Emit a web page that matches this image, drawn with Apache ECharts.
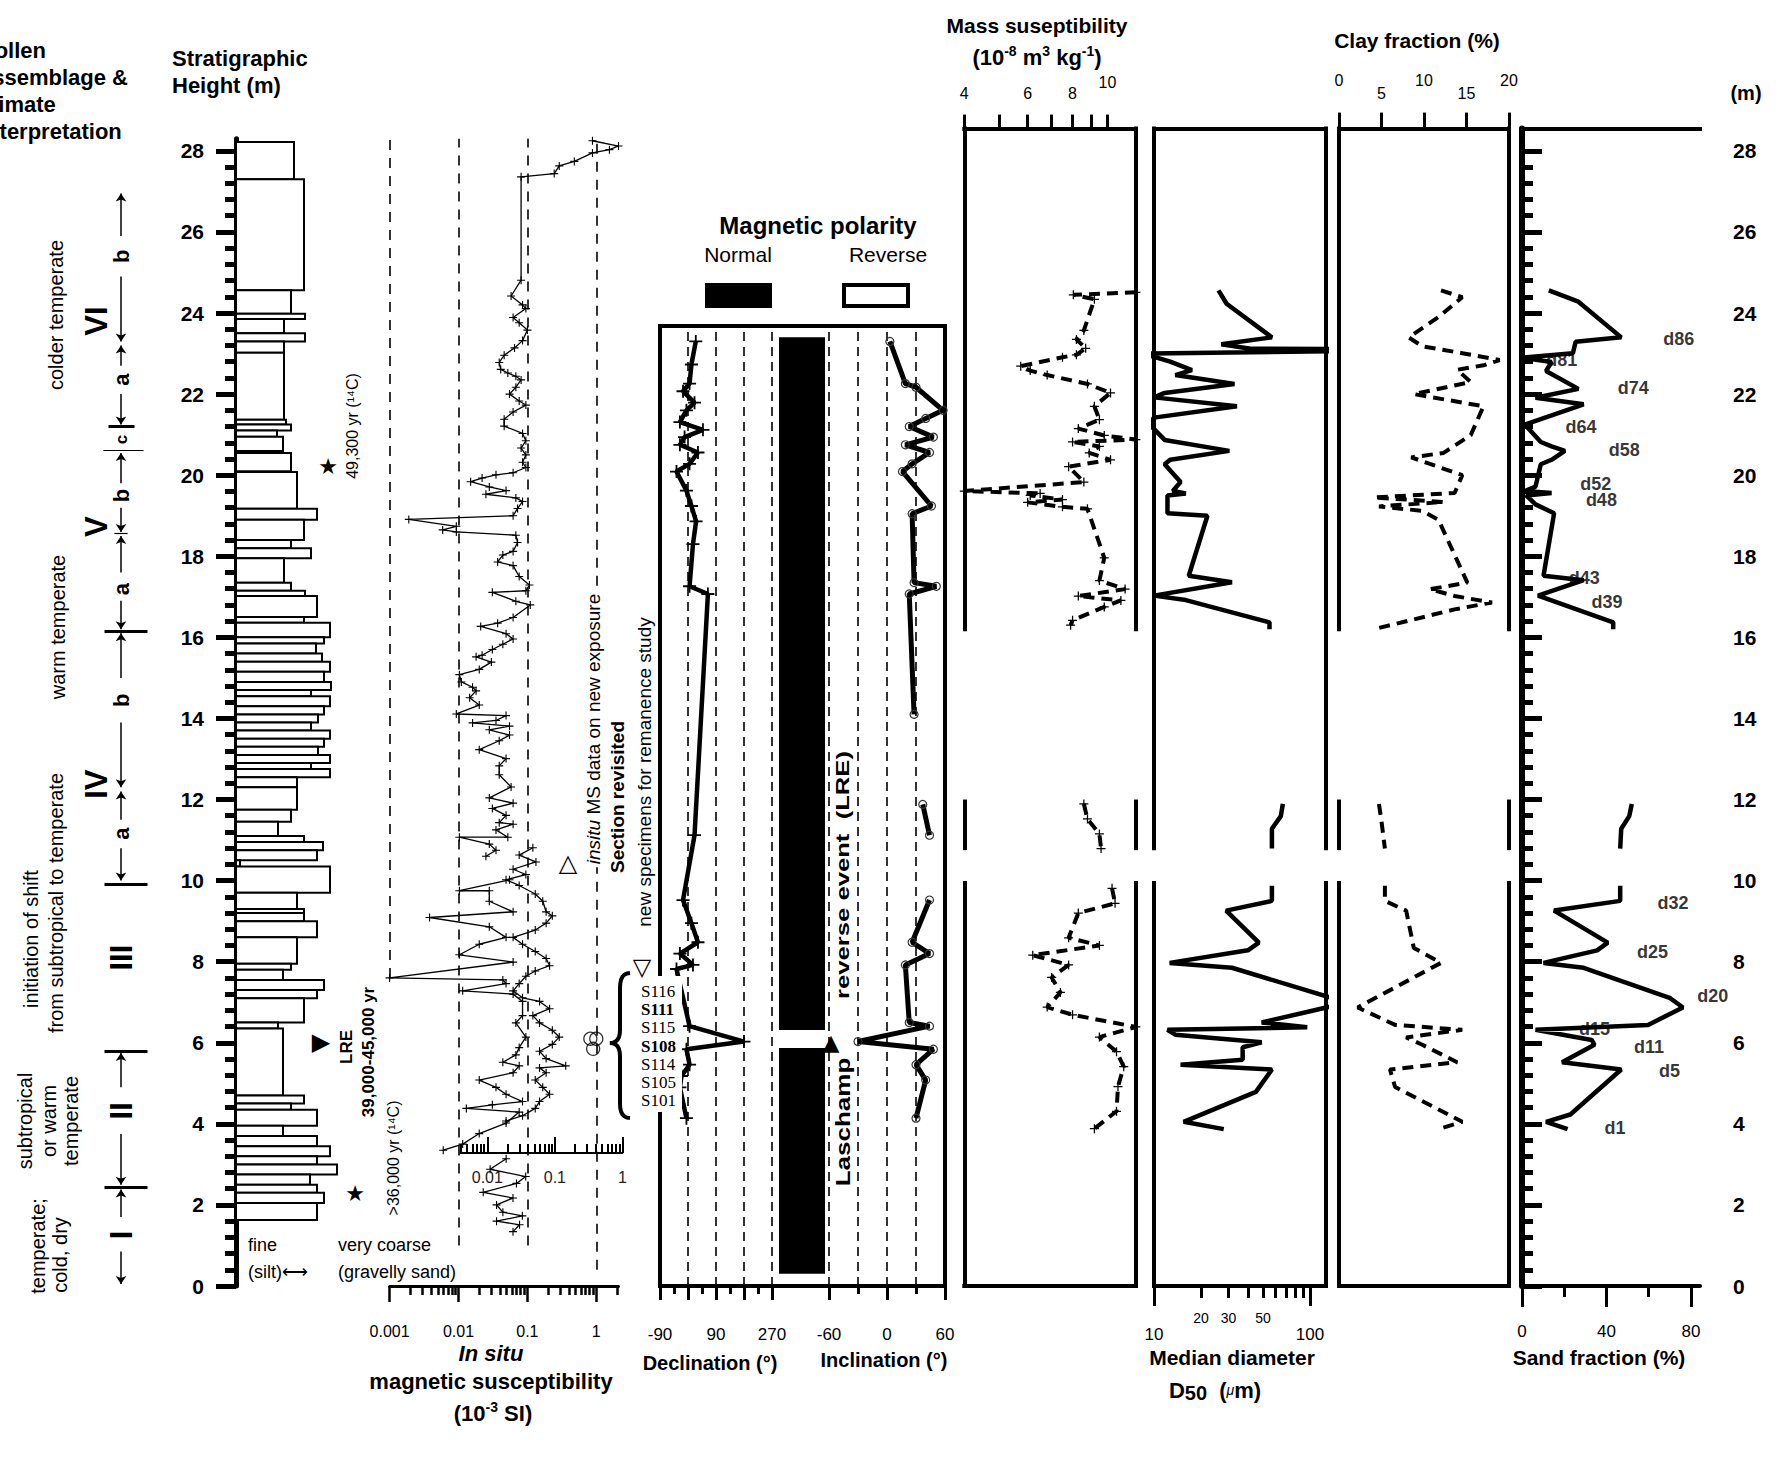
<!DOCTYPE html>
<html>
<head>
<meta charset="utf-8">
<title>Stratigraphic section</title>
<script src="https://cdn.jsdelivr.net/npm/echarts@6.0.0/dist/echarts.min.js"></script>
<style>
  html, body { margin: 0; padding: 0; background: #fff; }
  #chart { width: 1781px; height: 1477px; }
</style>
</head>
<body>
<div id="chart"></div>
<script>
// lithology beds: [bottom m, top m, grain size index]
const beds = [
  [27.3, 28.22, 58], [24.56, 27.3, 68], [23.98, 24.56, 55], [23.85, 23.98, 69], [23.5, 23.85, 48],
  [23.3, 23.5, 69], [23.02, 23.3, 48], [21.37, 23.02, 48], [21.25, 21.37, 50], [21.1, 21.25, 55],
  [20.95, 21.1, 41], [20.6, 20.95, 47], [20.1, 20.55, 55], [19.17, 20.08, 61], [18.9, 19.17, 81],
  [18.4, 18.9, 68], [18.2, 18.4, 55], [17.95, 18.2, 75], [17.35, 17.95, 48], [17.15, 17.35, 55],
  [17.02, 17.15, 69], [16.5, 17.02, 81], [16.36, 16.5, 68], [16.0, 16.36, 94], [15.85, 16.0, 88],
  [15.6, 15.85, 80], [15.4, 15.6, 86], [15.15, 15.4, 94], [14.9, 15.15, 88], [14.7, 14.9, 95],
  [14.55, 14.7, 75], [14.3, 14.55, 94], [14.1, 14.3, 88], [13.9, 14.1, 82], [13.7, 13.9, 75],
  [13.5, 13.7, 94], [13.3, 13.5, 88], [13.1, 13.3, 82], [12.9, 13.1, 94], [12.75, 12.9, 75],
  [12.55, 12.75, 94], [12.3, 12.55, 61], [11.75, 12.3, 61], [11.45, 11.75, 55], [11.1, 11.45, 42],
  [10.95, 11.1, 68], [10.75, 10.95, 87], [10.5, 10.75, 81], [10.35, 10.5, 4], [9.7, 10.35, 94],
  [9.3, 9.7, 61], [9.2, 9.3, 68], [9.0, 9.2, 68], [8.6, 9.0, 81], [7.95, 8.6, 61],
  [7.8, 7.95, 55], [7.55, 7.8, 47], [7.3, 7.55, 88], [7.1, 7.3, 81], [6.5, 7.1, 68],
  [6.35, 6.5, 42], [4.7, 6.35, 47], [4.5, 4.7, 68], [4.35, 4.5, 55], [3.95, 4.35, 81],
  [3.7, 3.95, 47], [3.45, 3.7, 81], [3.2, 3.45, 94], [3.0, 3.2, 81], [2.75, 3.0, 101],
  [2.5, 2.75, 74], [2.3, 2.5, 81], [2.05, 2.3, 88], [1.63, 2.05, 81]
];

// in situ magnetic susceptibility, [height m, 10^-3 SI]
const insituUpper = [
  [28.25, 0.88], [28.12, 2.1], [28.03, 1.55], [27.95, 0.88], [27.74, 0.48], [27.63, 0.29], [27.44, 0.245], [27.36, 0.081],
  [24.81, 0.081], [24.42, 0.058], [24.2, 0.085], [24.11, 0.095], [23.89, 0.062], [23.76, 0.076], [23.58, 0.1], [23.32, 0.085],
  [23.14, 0.065], [22.96, 0.046], [22.78, 0.039], [22.61, 0.041], [22.52, 0.052], [22.44, 0.068], [22.35, 0.081], [22.17, 0.068],
  [22.0, 0.055], [21.83, 0.076], [21.73, 0.095], [21.56, 0.062], [21.38, 0.046], [21.21, 0.046], [21.03, 0.085], [20.85, 0.095],
  [20.67, 0.081], [20.5, 0.095], [20.32, 0.085], [20.19, 0.095], [20.06, 0.062], [20.01, 0.035], [19.93, 0.022], [19.84, 0.015],
  [19.71, 0.028], [19.62, 0.049], [19.53, 0.025], [19.44, 0.068], [19.35, 0.085], [19.18, 0.072], [19.0, 0.062], [18.91, 0.0019],
  [18.74, 0.0093], [18.65, 0.0059], [18.6, 0.0093], [18.52, 0.068], [18.34, 0.072], [18.12, 0.062], [18.03, 0.044], [17.86, 0.037],
  [17.77, 0.062], [17.5, 0.076], [17.29, 0.107], [17.15, 0.095], [17.11, 0.031], [16.89, 0.068], [16.8, 0.11], [16.49, 0.062],
  [16.35, 0.037], [16.27, 0.021], [16.09, 0.049], [15.96, 0.062], [15.83, 0.044], [15.7, 0.031], [15.56, 0.022], [15.52, 0.018],
  [15.39, 0.03], [15.21, 0.02], [15.08, 0.0103], [14.9, 0.011], [14.77, 0.016], [14.68, 0.018], [14.51, 0.0145], [14.33, 0.02],
  [14.11, 0.0093], [14.07, 0.049], [13.95, 0.035], [13.89, 0.016], [13.81, 0.055], [13.72, 0.028], [13.59, 0.055], [13.45, 0.039],
  [13.23, 0.02], [13.01, 0.049], [12.83, 0.039], [12.61, 0.039], [12.31, 0.058], [12.04, 0.028], [11.91, 0.062], [11.78, 0.031],
  [11.61, 0.049], [11.43, 0.039], [11.39, 0.062], [11.25, 0.035], [11.07, 0.052], [11.07, 0.0103], [10.9, 0.028], [10.75, 0.035],
  [10.6, 0.025]
];
const insituLower = [
  [10.02, 0.055], [9.75, 0.0103], [9.75, 0.028], [9.49, 0.028], [9.23, 0.062], [9.09, 0.0038], [8.86, 0.028], [8.6, 0.049],
  [8.43, 0.02], [8.17, 0.0103], [7.99, 0.062], [7.6, 0.001], [7.55, 0.044], [7.46, 0.049], [7.28, 0.0115], [7.2, 0.062],
  [7.02, 0.085], [6.67, 0.085], [6.49, 0.068], [6.14, 0.095], [5.88, 0.076], [5.7, 0.068], [5.52, 0.044], [5.43, 0.076],
  [5.26, 0.062], [5.08, 0.02], [4.9, 0.035], [4.73, 0.049], [4.55, 0.085], [4.47, 0.031], [4.38, 0.013], [4.29, 0.076],
  [4.02, 0.049], [3.76, 0.02], [3.5, 0.0115], [3.35, 0.006]
];
// new exposure
const insituNew = [
  [10.81, 0.12], [10.63, 0.076], [10.46, 0.133], [10.28, 0.062], [10.15, 0.095], [10.02, 0.049], [9.88, 0.076], [9.67, 0.13],
  [9.49, 0.167], [9.23, 0.187], [9.13, 0.23], [8.95, 0.187], [8.78, 0.13], [8.6, 0.062], [8.43, 0.085], [8.25, 0.13],
  [8.08, 0.187], [7.9, 0.21], [7.77, 0.13], [7.64, 0.095], [7.46, 0.076], [7.28, 0.062], [7.11, 0.085], [7.02, 0.15],
  [6.84, 0.21], [6.67, 0.12], [6.49, 0.15], [6.31, 0.23], [6.14, 0.29], [5.96, 0.23], [5.79, 0.15], [5.61, 0.187],
  [5.43, 0.36], [5.38, 0.15], [5.26, 0.187], [5.08, 0.13], [4.9, 0.167], [4.73, 0.21], [4.55, 0.15], [4.38, 0.13],
  [4.2, 0.085], [4.07, 0.049]
];
// plotted on the inset scale
const insituInset = [
  [3.14, 0.019], [2.88, 0.011], [2.7, 0.037], [2.53, 0.027], [2.31, 0.0087], [2.17, 0.024], [2.0, 0.0137],
  [1.82, 0.017], [1.73, 0.033], [1.6, 0.0137], [1.51, 0.03], [1.34, 0.024]
];
const specimenMS = [[6.1, 0.82], [6.1, 1.0], [5.85, 0.9]];
const specimens = ['S116', 'S111', 'S115', 'S108', 'S114', 'S105', 'S101'];
// guide lines of the MS panel: [value, lower m, upper m]
const msGuides = [[0.001, 7.6, 28.3], [0.01, 1.0, 28.3], [0.1, 1.0, 28.3], [1, 0.4, 28.3]];

// palaeomagnetic directions [height m, degrees]
const declination = [
  [23.3, 25], [22.73, 11], [22.26, 5], [22.07, -16], [21.79, 21], [21.6, -5], [21.31, -26], [21.12, 48],
  [20.94, -11], [20.75, -26], [20.56, 32], [20.28, 5], [20.09, -37], [19.62, -5], [19.24, 11], [18.86, 26],
  [18.3, 16], [17.26, 5], [17.07, 64], [11.12, 21], [9.52, -16], [8.95, 11], [8.48, 32], [8.2, -26],
  [7.92, 16], [7.82, -37], [6.41, 5], [6.03, 180], [5.84, -5], [5.46, 5], [5.18, -21], [4.9, -26], [4.14, -5]
];
const inclination = [
  [23.3, 3], [22.26, 19], [22.17, 30], [21.6, 58], [21.4, 40], [21.2, 23], [20.94, 48], [20.75, 19],
  [20.56, 44], [20.28, 26], [20.09, 16], [19.24, 46], [19.05, 26], [17.35, 28], [17.26, 51], [17.07, 23],
  [14.1, 28], null, [11.88, 37], [11.12, 44], null, [9.52, 44], [8.48, 26], [8.2, 44], [7.92, 19],
  [6.5, 23], [6.41, 44], [6.03, -30], [5.84, 48], [5.46, 30], [5.08, 40], [4.14, 30]
];
const normalPolarity = [[0.3, 5.87], [6.31, 23.4]];

// mass susceptibility [height m, 10^-8 m3/kg]
const massSus = [
  [24.51, 12.0], [24.45, 8.04], [24.34, 9.2], [23.57, 8.6], [23.35, 8.2], [23.13, 8.7], [22.97, 8.2], [22.91, 7.5],
  [22.69, 5.74], [22.58, 6.1], [22.47, 6.8], [22.25, 8.8], [22.03, 10.2], [21.7, 9.2], [21.37, 9.5], [21.15, 8.3],
  [20.98, 9.8], [20.88, 12.0], [20.82, 8.0], [20.71, 9.5], [20.55, 8.9], [20.38, 10.2], [20.21, 7.8], [19.83, 8.6],
  [19.61, 4.0], [19.55, 6.5], [19.5, 6.1], [19.4, 7.5], [19.33, 6.0], [19.22, 7.5], [19.17, 8.8], [17.96, 9.8],
  [17.4, 9.5], [17.19, 11.2], [17.02, 8.3], [16.91, 10.9], [16.75, 9.8], [16.42, 8.0], [16.3, 7.9], null,
  [11.89, 8.6], [11.52, 8.8], [11.15, 9.5], [10.79, 9.6], null,
  [9.81, 10.3], [9.44, 10.5], [9.2, 8.3], [8.59, 7.8], [8.4, 9.5], [8.16, 6.2], [7.92, 7.8], [7.61, 7.0],
  [7.24, 7.4], [6.88, 6.8], [6.69, 8.0], [6.39, 12.0], [6.14, 9.5], [5.78, 10.6], [5.41, 11.1], [4.92, 10.7],
  [4.31, 10.6], [3.88, 9.2]
];
// median diameter D50 [height m, um]
const medianD50 = [
  [24.56, 25.9], [24.23, 29.2], [23.4, 57], [23.23, 27], [23.12, 41.6], [23.1, 1170], [23.0, 8.6], [22.8, 12.7],
  [22.59, 17.5], [22.47, 13.7], [22.25, 32.8], [22.03, 11.7], [21.92, 10], [21.7, 34], [21.42, 10], [21.26, 9.3],
  [20.87, 11.7], [20.6, 30.4], [20.38, 12.7], [20.27, 11.7], [19.83, 14.8], [19.61, 13.2], [19.55, 16], [19.5, 12.2],
  [19.06, 12.2], [19.0, 22], [17.52, 16.7], [17.36, 31.6], [17.03, 10], [16.92, 16], [16.37, 55], [16.2, 55], null,
  [11.89, 67], [11.59, 65], [11.28, 57], [10.79, 57], null,
  [9.87, 57], [9.5, 57], [9.26, 29], [8.47, 47], [8.28, 40], [7.97, 12.6], [7.85, 31.6], [6.99, 174],
  [6.5, 49], [6.38, 96], [6.32, 12.2], [6.2, 13.7], [6.01, 49], [5.89, 37], [5.58, 37], [5.46, 14.8],
  [5.34, 57], [4.79, 45], [4.05, 15.5], [3.87, 28]
];
// clay fraction [height m, %]
const clay = [
  [24.56, 12.0], [24.39, 14.5], [23.9, 11.7], [23.4, 8.2], [23.18, 9.8], [23.01, 14.5], [22.84, 18.9], [22.71, 17],
  [22.6, 13.9], [22.3, 15.5], [22.0, 8.8], [21.7, 17], [20.99, 15.5], [20.55, 12.3], [20.44, 8.5], [20.0, 14.5],
  [19.56, 13.6], [19.45, 4.1], [19.34, 12.3], [19.23, 4.7], [19.12, 9.8], [18.9, 11.7], [17.35, 15.1], [17.19, 10.7],
  [17.02, 13.6], [16.86, 18.0], [16.69, 13.6], [16.2, 4.1], null,
  [11.89, 4.7], [11.46, 5.0], [10.79, 5.4], null,
  [9.87, 5.4], [9.5, 5.4], [9.26, 7.9], [8.34, 8.8], [7.97, 12.0], [6.87, 2.2], [6.44, 6.6], [6.32, 14.5],
  [6.13, 7.9], [5.95, 9.8], [5.52, 13.9], [5.34, 6.0], [4.91, 6.6], [4.05, 14.5], [3.87, 11.7]
];
// sand fraction [height m, %]
const sand = [
  [24.56, 12.7], [24.28, 26.7], [23.4, 47], [23.29, 25.4], [23.01, 24.1], [22.9, 0], [22.79, 14], [22.57, 11.4],
  [22.13, 26.7], [21.91, 6.4], [21.75, 29.2], [21.25, 1.3], [20.82, 8.9], [20.71, 14], [20.6, 20.3], [20.38, 14],
  [20.27, 8.9], [19.72, 6.4], [19.61, 1.3], [19.56, 14], [19.5, 2], [19.28, 6.4], [19.06, 15.2], [17.52, 10.2],
  [17.41, 29.2], [17.03, 7.6], [16.37, 43.2], [16.2, 43.2], null,
  [11.89, 52], [11.59, 50.8], [11.28, 47], [10.79, 46.5], null,
  [9.87, 46.5], [9.5, 46.5], [9.26, 15.2], [8.47, 40.6], [8.28, 35.6], [7.97, 10.2], [7.85, 29.2], [7.11, 69.9],
  [6.87, 76.2], [6.44, 59.7], [6.32, 6.4], [6.07, 33], [5.95, 34.3], [5.52, 19], [5.34, 47], [4.23, 22.9],
  [4.05, 11.4], [3.87, 21.6]
];
// sample labels [name, sand %, height m]
const sampleLabels = [
  ['d86', 74.2, 23.35], ['d81', 18.8, 22.84], ['d74', 52.7, 22.14], ['d64', 27.9, 21.19], ['d58', 48.4, 20.63],
  ['d52', 34.9, 19.79], ['d48', 37.6, 19.39], ['d43', 29.5, 17.46], ['d39', 40.3, 16.87], ['d32', 71.5, 9.45],
  ['d25', 61.8, 8.24], ['d20', 90.3, 7.15], ['d15', 34.3, 6.33], ['d11', 60.2, 5.89], ['d5', 69.9, 5.3], ['d1', 44, 3.9]
];

// pollen zones: boundaries, arrows [from, to], labels [text, height]
const zoneBounds = [2.43, 5.8, 9.91, 16.14];
const zoneArrows = [
  [0.85, 0.05], [1.7, 2.38], [3.75, 2.5], [4.9, 5.75], [10.8, 10.0], [11.5, 12.2], [13.9, 12.3], [15.0, 16.1],
  [16.9, 16.2], [17.6, 18.5], [19.2, 18.6], [19.8, 20.55], [22.0, 21.25], [22.7, 23.2], [24.9, 23.3], [25.9, 26.95]
];
const zoneNumerals = [['VI', 23.8], ['V', 18.73], ['IV', 12.38]];
const zoneNumeralsInline = [['III', 8.1], ['II', 4.32], ['I', 1.26]];
const subzones = [['b', 25.4], ['a', 22.36], ['c', 20.88], ['b', 19.5], ['a', 17.19], ['b', 14.45], ['a', 11.16]];

// frame breaks [upper, lower]
const gapWide = [[16.2, 11.95], [10.8, 9.94]];
const gapNarrow = [[10.8, 9.94]];

const FONT = '"Liberation Sans", Arial, Helvetica, sans-serif';
const Y0 = 1286, PPM = 40.54;
const yPx = h => Y0 - h * PPM;
const lg = v => Math.log10(v);
const range = (a, b, s) => { const r = []; for (let v = a; v <= b + 1e-9; v += s) r.push(Math.round(v * 1000) / 1000); return r; };
const minorLogs = (decades, from, to) => {
  const r = [];
  decades.forEach(n => { for (let k = 2; k <= 9; k++) { const v = lg(k) + n; if (v >= from - 1e-9 && v <= to + 1e-9) r.push(v); } });
  return r;
};

const grids = [], xAxis = [], yAxis = [], series = [];

function panel(left, right, hTop, xmin, xmax) {
  const g = grids.length;
  grids.push({ left, top: yPx(hTop), width: right - left, height: hTop * PPM, outerBoundsMode: 'none' });
  const xi = xAxis.length;
  xAxis.push({ gridIndex: g, type: 'value', min: xmin, max: xmax, show: false });
  const yi = yAxis.length;
  yAxis.push({ gridIndex: g, type: 'value', min: 0, max: hTop, show: false });
  return { g, xi, yi, xmin, xmax, hTop };
}
function ticks(vals, len, width) {
  return { show: true, customValues: vals, length: len, lineStyle: { color: '#000', width } };
}
function labels(vals, opt) {
  return Object.assign({ show: true, customValues: vals, color: '#000', fontFamily: FONT, fontSize: 16 }, opt);
}
function addX(p, opt) {
  xAxis.push(Object.assign({
    gridIndex: p.g, type: 'value', min: p.xmin, max: p.xmax, show: true,
    axisLine: { show: false }, axisTick: { show: false }, axisLabel: { show: false }, splitLine: { show: false }
  }, opt));
}
function addY(p, opt) {
  yAxis.push(Object.assign({
    gridIndex: p.g, type: 'value', min: 0, max: p.hTop, show: true,
    axisLine: { show: false }, axisTick: { show: false }, axisLabel: { show: false }, splitLine: { show: false }
  }, opt));
}
const toXY = (data, f) => data.map(d => d ? [f(d[1]), d[0]] : ['-', '-']);
const PLUS = 'path://M4.3,0H5.7V4.3H10V5.7H5.7V10H4.3V5.7H0V4.3H4.3Z';
const guideLines = vals => ({
  silent: true, symbol: 'none', label: { show: false },
  lineStyle: { type: [9, 6], color: '#000', width: 1.6 },
  data: vals.map(v => ({ xAxis: v }))
});

function segLines(p, segs, width, extra) {
  series.push(Object.assign({
    type: 'lines', coordinateSystem: 'cartesian2d', xAxisIndex: p.xi, yAxisIndex: p.yi,
    data: segs.map(c => ({ coords: c })), symbol: 'none', clip: false, silent: true, z: 4,
    lineStyle: { color: '#000', width, opacity: 1, cap: 'square' }
  }, extra || {}));
}
function sideSegs(x, top, gaps) {
  const segs = []; let cur = top;
  gaps.forEach(([hi, lo]) => { segs.push([[x, cur], [x, hi]]); cur = lo; });
  segs.push([[x, cur], [x, 0]]);
  return segs;
}
function frame(p, gaps, opts) {
  const o = opts || {};
  let segs = [];
  if (!o.noLeft) segs = segs.concat(sideSegs(p.xmin, p.hTop, gaps));
  if (!o.noRight) segs = segs.concat(sideSegs(p.xmax, p.hTop, gaps));
  segs.push([[p.xmin, p.hTop], [p.xmax, p.hTop]]);
  if (!o.noBottom) segs.push([[p.xmin, 0], [p.xmax, 0]]);
  segLines(p, segs, 4);
}

// ---------- pollen column ----------
const pPollen = panel(0, 160, 29, 0, 160);
series.push({
  type: 'lines', coordinateSystem: 'cartesian2d', xAxisIndex: pPollen.xi, yAxisIndex: pPollen.yi,
  data: zoneArrows.map(a => ({ coords: [[121, a[0]], [121, a[1]]] })),
  symbol: ['none', 'arrow'], symbolSize: 8, silent: true, clip: false,
  lineStyle: { color: '#000', width: 1.5, opacity: 1 }
});
segLines(pPollen, zoneBounds.map(h => [[106, h], [146, h]]), 3);
segLines(pPollen, [[[104, 20.61], [143, 20.61]], [[115, 18.56], [127, 18.56]]], 1.2);
segLines(pPollen, [[[110, 21.2], [133, 21.2]]], 3);

// ---------- lithology + height axis ----------
const pLith = panel(236, 346, 28.3, 0, 110);
const majorH = range(0, 28, 2);
const minorH = range(0.4, 28.4, 0.4).filter(v => Math.abs(v / 2 - Math.round(v / 2)) > 1e-6 && v <= 28.3);
addY(pLith, {
  position: 'left', axisLine: { show: true, lineStyle: { color: '#000', width: 5 } },
  axisTick: ticks(majorH, 20, 5),
  axisLabel: labels(majorH, { fontSize: 21, fontWeight: 'bold', margin: 32 })
});
addY(pLith, { position: 'left', axisTick: ticks(minorH, 11, 5) });
series.push({
  type: 'custom', xAxisIndex: pLith.xi, yAxisIndex: pLith.yi, data: beds,
  renderItem: (params, api) => {
    const a = api.coord([0, api.value(0)]);
    const b = api.coord([api.value(2), api.value(1)]);
    return { type: 'rect', shape: { x: a[0], y: b[1], width: b[0] - a[0], height: a[1] - b[1] },
      style: { fill: '#fff', stroke: '#000', lineWidth: 2 } };
  }
});

// ---------- in situ MS ----------
const pMS = panel(389.6, 618.5, 28.3, -3, lg(2.1));
addX(pMS, {
  position: 'bottom', axisLine: { show: true, lineStyle: { color: '#000', width: 3 } },
  axisTick: ticks([-3, -2, -1, 0], 16, 2.5),
  axisLabel: labels([-3, -2, -1, 0], { margin: 37, formatter: v => String(+Math.pow(10, v).toPrecision(1)) })
});
addX(pMS, { position: 'bottom', axisTick: ticks(minorLogs([-3, -2, -1, 0], -3, lg(2.1)), 9, 2.5) });
segLines(pMS, msGuides.map(g => [[lg(g[0]), g[1]], [lg(g[0]), g[2]]]), 1.6,
  { z: 1, lineStyle: { color: '#000', width: 1.6, opacity: 1, type: [10, 8] } });
const msLine = { type: 'line', xAxisIndex: pMS.xi, yAxisIndex: pMS.yi, clip: false, symbol: PLUS, symbolSize: 8,
  itemStyle: { color: '#000' }, lineStyle: { color: '#000', width: 1.3 } };
series.push(Object.assign({}, msLine, { data: toXY(insituUpper, lg) }));
series.push(Object.assign({}, msLine, { data: toXY(insituLower, lg) }));
series.push(Object.assign({}, msLine, { data: toXY(insituNew, lg) }));
series.push({ type: 'scatter', xAxisIndex: pMS.xi, yAxisIndex: pMS.yi, clip: false, symbol: 'circle', symbolSize: 13,
  itemStyle: { color: 'rgba(255,255,255,0)', borderColor: '#000', borderWidth: 1.3 }, data: toXY(specimenMS, lg), z: 6 });

const pInset = panel(460.3, 622.4, 3.28, -2.4, 0);
addX(pInset, {
  position: 'top', axisLine: { show: true, lineStyle: { color: '#000', width: 2 } },
  axisTick: ticks([-2, -1, 0], 16, 2),
  axisLabel: labels([-2, -1, 0], { inside: true, margin: 16, color: '#222',
    formatter: v => String(+Math.pow(10, v).toPrecision(1)) })
});
addX(pInset, { position: 'top', axisTick: ticks(minorLogs([-3, -2, -1], -2.4, 0), 9, 2) });
series.push(Object.assign({}, msLine, { xAxisIndex: pInset.xi, yAxisIndex: pInset.yi, data: toXY(insituInset, lg) }));

// ---------- declination / polarity / inclination ----------
const PH = 23.68;
const pFrame = panel(660, 945, PH, 0, 1);
grids[pFrame.g].show = true;
grids[pFrame.g].borderColor = '#000';
grids[pFrame.g].borderWidth = 4;
grids[pFrame.g].backgroundColor = 'transparent';

const pDec = panel(660, 772, PH, -90, 270);
addX(pDec, { position: 'bottom', axisTick: ticks([-90, 0, 90, 180, 270], 14, 3),
  axisLabel: labels([-90, 90, 270], { fontSize: 17, margin: 40 }) });
addX(pDec, { position: 'bottom', axisTick: ticks([-45, 45, 135, 225], 8, 3) });
series.push({
  type: 'line', xAxisIndex: pDec.xi, yAxisIndex: pDec.yi, clip: false, data: toXY(declination, v => v),
  symbol: PLUS, symbolSize: 13, itemStyle: { color: '#000' }, lineStyle: { color: '#000', width: 4.5 }, z: 5,
  markLine: guideLines([0, 90, 180, 270])
});

const pPol = panel(779, 825, PH, 0, 1);
series.push({
  type: 'custom', xAxisIndex: pPol.xi, yAxisIndex: pPol.yi, data: normalPolarity,
  renderItem: (params, api) => {
    const a = api.coord([0, api.value(0)]);
    const b = api.coord([1, api.value(1)]);
    return { type: 'rect', shape: { x: a[0], y: b[1], width: b[0] - a[0], height: a[1] - b[1] }, style: { fill: '#000' } };
  }
});

const pInc = panel(829, 945, PH, -60, 60);
addX(pInc, { position: 'bottom', axisTick: ticks([-60, 0, 60], 14, 3),
  axisLabel: labels([-60, 0, 60], { fontSize: 17, margin: 40 }) });
addX(pInc, { position: 'bottom', axisTick: ticks([-30, 30], 8, 3) });
series.push({
  type: 'line', xAxisIndex: pInc.xi, yAxisIndex: pInc.yi, clip: false, data: toXY(inclination, v => v),
  symbol: 'circle', symbolSize: 8, itemStyle: { color: 'rgba(255,255,255,0)', borderColor: '#333', borderWidth: 1.2 },
  lineStyle: { color: '#000', width: 5 }, z: 5,
  markLine: guideLines([-60, -30, 0, 30])
});

// ---------- mass susceptibility ----------
const TOP = 28.55;
const pMass = panel(964.3, 1135.9, TOP, lg(4), lg(12));
addX(pMass, { position: 'top', axisTick: ticks([4, 5, 6, 7, 8, 9, 10].map(lg), 14, 3),
  axisLabel: labels([4, 6, 8].map(lg), { margin: 27, formatter: v => String(Math.round(Math.pow(10, v))) }) });
addX(pMass, { position: 'top', axisLabel: labels([lg(10)], { margin: 38, formatter: () => '10' }) });
frame(pMass, gapWide);
series.push({
  type: 'line', xAxisIndex: pMass.xi, yAxisIndex: pMass.yi, clip: false, data: toXY(massSus, lg),
  symbol: PLUS, symbolSize: 9, showSymbol: true, itemStyle: { color: '#000' },
  lineStyle: { color: '#000', width: 4, type: [11, 7] }
});

// ---------- median diameter ----------
const pMed = panel(1154, 1325.6, TOP, 1, 2.1);
addX(pMed, { position: 'bottom', axisLine: { show: true, lineStyle: { color: '#000', width: 4 } },
  axisTick: ticks([1, 2], 20, 3),
  axisLabel: labels([1, 2], { fontSize: 17, margin: 40, formatter: v => String(Math.round(Math.pow(10, v))) }) });
addX(pMed, { position: 'bottom', axisTick: ticks(minorLogs([1], 1, 2), 12, 3),
  axisLabel: labels([20, 30, 50].map(lg), { fontSize: 14, margin: 25, formatter: v => String(Math.round(Math.pow(10, v))) }) });
frame(pMed, gapNarrow);
series.push({
  type: 'line', xAxisIndex: pMed.xi, yAxisIndex: pMed.yi, clip: false, data: toXY(medianD50, lg),
  showSymbol: false, symbol: 'none', lineStyle: { color: '#000', width: 4.5 }
});

// ---------- clay fraction ----------
const pClay = panel(1339, 1509, TOP, 0, 20);
addX(pClay, { position: 'top', axisTick: ticks([0, 5, 10, 15, 20], 16, 3),
  axisLabel: labels([0, 10, 20], { margin: 40 }) });
addX(pClay, { position: 'top', axisLabel: labels([5, 15], { margin: 27 }) });
frame(pClay, gapWide);
series.push({
  type: 'line', xAxisIndex: pClay.xi, yAxisIndex: pClay.yi, clip: false, data: toXY(clay, v => v),
  showSymbol: false, symbol: 'none', lineStyle: { color: '#000', width: 4, type: [11, 7] }
});

// ---------- sand fraction + right height axis ----------
const pSand = panel(1522, 1700, TOP, 0, 84.3);
addX(pSand, { position: 'bottom', axisLine: { show: true, lineStyle: { color: '#000', width: 4 } },
  axisTick: ticks([0, 40, 80], 21, 3), axisLabel: labels([0, 40, 80], { fontSize: 17, margin: 37 }) });
addX(pSand, { position: 'bottom', axisTick: ticks([20, 60], 11, 3) });
addY(pSand, {
  position: 'right', axisLine: { show: true, lineStyle: { color: '#000', width: 6 } },
  axisTick: ticks(majorH, 20, 5),
  axisLabel: labels(majorH, { fontSize: 21, fontWeight: 'bold', margin: 33 })
});
addY(pSand, { position: 'right', axisTick: ticks(minorH, 11, 5) });
frame(pSand, gapWide, { noRight: true, noBottom: true });
series.push({
  type: 'line', xAxisIndex: pSand.xi, yAxisIndex: pSand.yi, clip: false, data: toXY(sand, v => v),
  showSymbol: false, symbol: 'none', lineStyle: { color: '#000', width: 4.5 }
});
series.push({
  type: 'scatter', xAxisIndex: pSand.xi, yAxisIndex: pSand.yi, clip: false, symbolSize: 1,
  itemStyle: { color: 'rgba(0,0,0,0)' }, data: sampleLabels.map(d => [d[1], d[2], d[0]]), z: 8,
  label: { show: true, position: 'inside', formatter: p => p.data[2], fontFamily: FONT, fontSize: 18,
    fontWeight: 'bold', color: '#000' }
});

// ---------- text ----------
const G = [];
function T(x, y, text, o) {
  o = o || {};
  G.push({
    type: 'text', x, y, z: o.z || 50, rotation: o.rot ? Math.PI / 2 : 0, scaleX: o.sx || 1,
    style: { text, fill: '#000', fontFamily: o.family || FONT, fontSize: o.size || 20,
      fontWeight: o.bold ? 'bold' : 'normal', fontStyle: o.italic ? 'italic' : 'normal',
      align: o.align || 'center', verticalAlign: 'middle', rich: o.rich,
      backgroundColor: o.bg, padding: o.bg ? [0, 3] : 0 }
  });
}
// quadratic curve points for the brace
function quad(p0, p1, p2, n) {
  const pts = [];
  for (let i = 0; i <= n; i++) {
    const t = i / n, u = 1 - t;
    pts.push([u * u * p0[0] + 2 * u * t * p1[0] + t * t * p2[0], u * u * p0[1] + 2 * u * t * p1[1] + t * t * p2[1]]);
  }
  return pts;
}
['Pollen', 'assemblage &', 'climate', 'interpretation'].forEach((t, i) => T(-20, 50 + i * 27, t, { align: 'left', bold: true, size: 22 }));
T(172, 58, 'Stratigraphic', { align: 'left', bold: true, size: 22 });
T(172, 85, 'Height (m)', { align: 'left', bold: true, size: 22 });

T(56, 315, 'colder temperate', { rot: true });
T(58, 627, 'warm temperate', { rot: true });
T(31, 939, 'initiation of shift', { rot: true });
T(56, 903, 'from subtropical to temperate', { rot: true });
T(25, 1121, 'subtropical', { rot: true });
T(49, 1121, 'or warm', { rot: true });
T(71, 1121, 'temperate', { rot: true });
T(38, 1246, 'temperate;', { rot: true });
T(60, 1255, 'cold, dry', { rot: true });
zoneNumerals.forEach(z => T(96, yPx(z[1]), z[0], { rot: true, bold: true, size: 31 }));
zoneNumeralsInline.forEach(z => T(121, yPx(z[1]), z[0], { rot: true, bold: true, size: 31, z: 60, bg: '#fff' }));
subzones.forEach(z => T(121, yPx(z[1]), z[0], { rot: true, bold: true, size: z[0] === 'c' ? 17 : 22 }));

T(248, 1245, 'fine', { align: 'left', size: 18 });
T(248, 1272, '(silt)\u27F7', { align: 'left', size: 18 });
T(338, 1245, 'very coarse', { align: 'left', size: 18 });
T(338, 1272, '(gravelly sand)', { align: 'left', size: 18 });
T(328, 466, '\u2605', { size: 22, family: 'DejaVu Sans' });
T(355, 1193, '\u2605', { size: 22, family: 'DejaVu Sans' });
T(352, 426, '49,300 yr (\u00B9\u2074C)', { rot: true, size: 16 });
T(321, 1042, '\u25B6', { size: 24, family: 'DejaVu Sans' });
T(346, 1047, 'LRE', { rot: true, bold: true, size: 17 });
T(368, 1052, '39,000-45,000 yr', { rot: true, bold: true, size: 17 });
T(393, 1158, '>36,000 yr (\u00B9\u2074C)', { rot: true, size: 16 });

T(568, 863, '\u25B3', { size: 24, family: 'DejaVu Sans' });
T(593, 729, '{i|insitu} MS data on new exposure', { rot: true, size: 19, bg: '#fff',
  rich: { i: { fontStyle: 'italic', fontSize: 19, fontFamily: FONT } } });
T(617, 797, 'Section revisited', { rot: true, bold: true, size: 19 });
T(644, 772, 'new specimens for remanence study', { rot: true, size: 19 });
T(642, 967, '\u25BD', { size: 24, family: 'DejaVu Sans' });
G.push({ type: 'rect', z: 40, shape: { x: 636, y: 976, width: 46, height: 136 }, style: { fill: '#fff' } });
const bracePts = [].concat(
  quad([630, 973], [620, 973], [620, 988], 6),
  quad([620, 1030], [620, 1043], [610, 1043], 6),
  quad([610, 1043], [620, 1043], [620, 1056], 6),
  quad([620, 1104], [620, 1118], [630, 1118], 6)
);
G.push({ type: 'polyline', z: 45, shape: { points: bracePts }, style: { stroke: '#000', fill: null, lineWidth: 4 } });
specimens.forEach((s, i) => T(641, 991.5 + i * 18.2, s, { align: 'left', size: 17, family: '"Liberation Serif", "Times New Roman", serif',
  bold: s === 'S111' || s === 'S108' }));

T(818, 225, 'Magnetic polarity', { bold: true, size: 24 });
T(738, 254, 'Normal', { size: 21 });
T(888, 254, 'Reverse', { size: 21 });
G.push({ type: 'rect', z: 50, shape: { x: 705, y: 283, width: 67, height: 25 }, style: { fill: '#000' } });
G.push({ type: 'rect', z: 50, shape: { x: 844, y: 285, width: 64, height: 21 }, style: { fill: '#fff', stroke: '#000', lineWidth: 4 } });
G.push({ type: 'rect', z: 40, shape: { x: 776, y: 1030, width: 52, height: 18 }, style: { fill: '#fff' } });
T(843, 1122, 'Laschamp', { rot: true, bold: true, size: 20, sx: 1.3 });
T(843, 875, 'reverse event  (LRE)', { rot: true, bold: true, size: 19, sx: 1.35 });
T(831, 1042, '\u25B2', { size: 22, family: 'DejaVu Sans' });

T(491, 1353, 'In situ', { bold: true, italic: true, size: 22 });
T(491, 1381, 'magnetic susceptibility', { bold: true, size: 22 });
const sup = { fontSize: 14, fontWeight: 'bold', fontFamily: FONT, verticalAlign: 'top', lineHeight: 14 };
const nrm = { fontSize: 22, fontWeight: 'bold', fontFamily: FONT, lineHeight: 26 };
T(493, 1413, '{n|(10}{s|-3}{n| SI)}', { rich: { n: nrm, s: sup } });
T(710, 1363, 'Declination (\u00B0)', { bold: true, size: 20 });
T(884, 1360, 'Inclination (\u00B0)', { bold: true, size: 20 });
T(1232, 1357, 'Median diameter', { bold: true, size: 21 });
T(1215, 1390, '{n|D}{b|50}{n|  (}{m|\u03BC}{n|m)}', { rich: {
  n: { fontSize: 22, fontWeight: 'bold', fontFamily: FONT, lineHeight: 26 },
  b: { fontSize: 20, fontWeight: 'bold', fontFamily: FONT, verticalAlign: 'bottom', lineHeight: 20 },
  m: { fontSize: 14, fontStyle: 'italic', fontFamily: FONT, lineHeight: 26 } } });
T(1599, 1357, 'Sand fraction (%)', { bold: true, size: 21 });
T(1037, 25, 'Mass suseptibility', { bold: true, size: 21 });
T(1037, 57, '{n|(10}{s|-8}{n| m}{s|3}{n| kg}{s|-1}{n|)}', { rich: { n: nrm, s: sup } });
T(1417, 40, 'Clay fraction (%)', { bold: true, size: 21 });
T(1746, 93, '(m)', { bold: true, size: 20 });

const chart = echarts.init(document.getElementById('chart'), null, { renderer: 'svg', width: 1781, height: 1477 });
chart.setOption({
  animation: false,
  backgroundColor: '#fff',
  textStyle: { fontFamily: FONT, color: '#000' },
  grid: grids,
  xAxis,
  yAxis,
  series,
  graphic: { elements: G }
});
</script>
</body>
</html>
